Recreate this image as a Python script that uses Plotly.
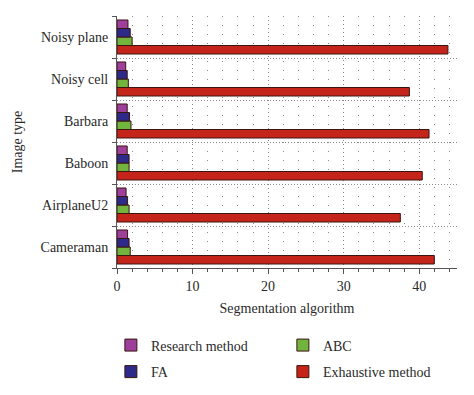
import plotly.graph_objects as go

categories = ["Cameraman", "AirplaneU2", "Baboon", "Barbara", "Noisy cell", "Noisy plane"]
research = [1.4, 1.2, 1.35, 1.35, 1.15, 1.45]
fa = [1.6, 1.4, 1.6, 1.65, 1.35, 1.75]
abc = [1.75, 1.6, 1.6, 1.85, 1.5, 2.0]
exhaustive = [42.0, 37.5, 40.4, 41.3, 38.7, 43.8]

series = [
    ("Exhaustive method", exhaustive, "#c5241b", "legend2", 2),
    ("ABC", abc, "#72b43e", "legend", 2),
    ("FA", fa, "#2e2a8a", "legend2", 1),
    ("Research method", research, "#9e3f9c", "legend", 1),
]

fig = go.Figure()
for name, vals, color, leg, rank in series:
    fig.add_trace(go.Bar(
        y=categories, x=vals, name=name, orientation="h",
        marker=dict(color=color, line=dict(color="#3a1510", width=1)),
        legend=leg, legendrank=rank,
    ))

font_family = "Liberation Serif, DejaVu Serif, serif"
txt = "#2a2a2a"
leg_common = dict(orientation="h", x=-0.018, xanchor="left", yanchor="middle",
                  entrywidth=127, traceorder="normal",
                  font=dict(family=font_family, size=14, color=txt), itemwidth=30)
fig.update_layout(
    width=466, height=387,
    margin=dict(l=109, r=17, t=8, b=127, autoexpand=False),
    paper_bgcolor="white", plot_bgcolor="white",
    barmode="group", bargap=0.19, bargroupgap=0,
    font=dict(family=font_family, size=14, color=txt),
    showlegend=True,
    legend=dict(y=-0.3075, **leg_common),
    legend2=dict(y=-0.4127, **leg_common),
    xaxis=dict(
        range=[0, 45], dtick=10, tick0=0,
        showline=True, linecolor="#555555", linewidth=1,
        ticks="outside", ticklen=5, tickcolor="#555555",
        showgrid=True, gridcolor="#8a8a8a", griddash="1px,3px", gridwidth=1,
        minor=dict(dtick=2, ticks="outside", ticklen=3, tickcolor="#555555",
                   showgrid=True, gridcolor="#8a8a8a", griddash="1px,8px"),
        zeroline=False,
        title=dict(text="Segmentation algorithm", standoff=10,
                   font=dict(family=font_family, size=14, color=txt)),
        tickfont=dict(family=font_family, size=14, color=txt),
    ),
    yaxis=dict(
        range=[-0.5, 5.5], automargin=False,
        showline=True, linecolor="#555555", linewidth=1,
        ticks="outside", ticklen=4, tickcolor="#555555", tickson="boundaries",
        showgrid=True, gridcolor="#8a8a8a", griddash="1px,2px", gridwidth=1,
        title=dict(text="Image type", standoff=14,
                   font=dict(family=font_family, size=14, color=txt)),
        tickfont=dict(family=font_family, size=14, color=txt),
        ticklabelstandoff=5,
    ),
    yaxis2=dict(
        type="category", categoryarray=categories, categoryorder="array",
        range=[-0.5, 5.5], overlaying="y", side="left",
        showgrid=True, gridcolor="#8a8a8a", griddash="1px,7px", gridwidth=1,
        showticklabels=False, ticks="", showline=False, zeroline=False,
    ),
)

fig.write_html("out.html")
